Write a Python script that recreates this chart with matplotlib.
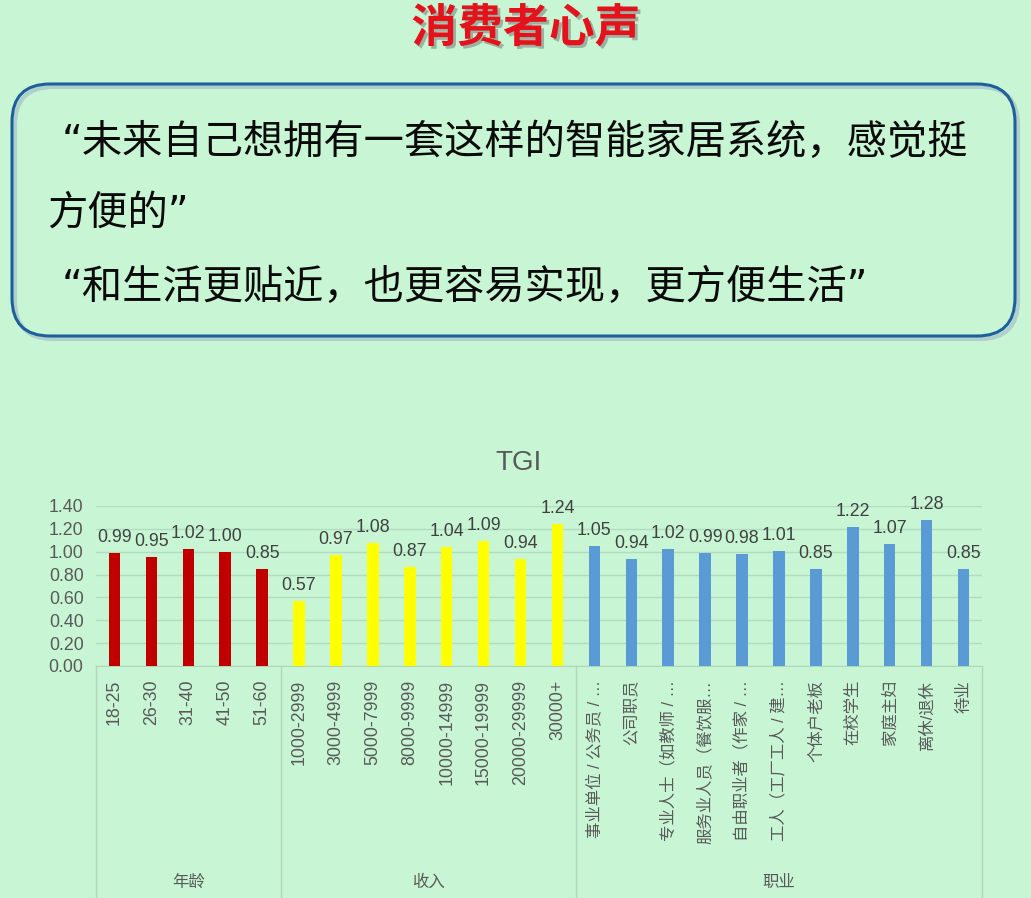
import matplotlib
matplotlib.use("Agg")
import matplotlib.pyplot as plt
import matplotlib.patheffects as pe
from matplotlib.patches import FancyBboxPatch
from matplotlib.transforms import blended_transform_factory
import numpy as np

# chart data
age_labels = ['18-25', '26-30', '31-40', '41-50', '51-60']
age_tgi = [0.99, 0.95, 1.02, 1.00, 0.85]
income_labels = ['1000-2999', '3000-4999', '5000-7999', '8000-9999',
                 '10000-14999', '15000-19999', '20000-29999', '30000+']
income_tgi = [0.57, 0.97, 1.08, 0.87, 1.04, 1.09, 0.94, 1.24]
job_labels = ['事业单位 / 公务员 / …', '公司职员', '专业人士（如教师 / …',
              '服务业人员（餐饮服…', '自由职业者（作家 / …', '工人（工厂工人 / 建…',
              '个体户老板', '在校学生', '家庭主妇', '离休/退休', '待业']
job_tgi = [1.05, 0.94, 1.02, 0.99, 0.98, 1.01, 0.85, 1.22, 1.07, 1.28, 0.85]
group_names = ['年龄', '收入', '职业']
group_colors = ['#c00000', '#ffff00', '#5b9bd5']
y_ticks = [0.0, 0.2, 0.4, 0.6, 0.8, 1.0, 1.2, 1.4]

page_title = '消费者心声'
quote_lines = ['“未来自己想拥有一套这样的智能家居系统，感觉挺',
               '方便的”',
               '“和生活更贴近，也更容易实现，更方便生活”']

BG = '#c8f6d5'
W, H = 1031, 898
cjk = ['Noto Sans CJK SC', 'DejaVu Sans']
latin = ['Liberation Sans', 'Noto Sans CJK SC']

fig = plt.figure(figsize=(W / 100, H / 100), dpi=100, facecolor=BG)

# overlay in pixel coords for the top part
top = fig.add_axes([0, 0, 1, 1], zorder=0)
top.set_xlim(0, W)
top.set_ylim(H, 0)
top.axis('off')
top.patch.set_alpha(0)

top.text(526, 29, page_title, ha='center', va='center', fontsize=33,
         fontweight='bold', color='#e5121b', family=cjk,
         path_effects=[pe.SimplePatchShadow(offset=(2, -2), shadow_rgbFace='#707070', alpha=0.5),
                       pe.Normal()])

box_shadow = FancyBboxPatch((15, 87), 1003, 252, boxstyle='round,pad=0,rounding_size=38',
                            fc='none', ec='#9fb8c8', lw=3, alpha=0.6)
top.add_patch(box_shadow)
box = FancyBboxPatch((12, 84), 1003, 252, boxstyle='round,pad=0,rounding_size=38',
                     fc='none', ec='#1f5f9c', lw=2.2)
top.add_patch(box)

quote_pos = [(62, 143), (47, 214), (62, 288)]
for (qx, qy), line in zip(quote_pos, quote_lines):
    top.text(qx, qy, line, ha='left', va='center', fontsize=29, color='#0a0a0a',
             family=['DejaVu Sans', 'Noto Sans CJK SC'])

top.text(518, 463, 'TGI', ha='center', va='center', fontsize=20, color='#595959', family=latin)

# bar chart
ax = fig.add_axes([96 / W, 1 - 666 / H, 886 / W, 160 / H], zorder=1)
ax.set_facecolor('none')

values = age_tgi + income_tgi + job_tgi
labels = age_labels + income_labels + job_labels
groups = [age_labels, income_labels, job_labels]
colors = []
for g, c in zip(groups, group_colors):
    colors += [c] * len(g)
x = np.arange(len(values))

ax.bar(x, values, width=0.31, color=colors, zorder=3)
for xi, v in zip(x, values):
    ax.annotate('%.2f' % v, (xi, v), xytext=(0, 5), textcoords='offset points',
                ha='center', va='bottom', fontsize=12.8, color='#404040',
                family=latin, annotation_clip=False)

ax.set_xlim(-0.5, len(values) - 0.5)
ax.set_ylim(0, 1.4)
ax.set_yticks(y_ticks)
ax.set_yticklabels(['%.2f' % t for t in y_ticks], fontsize=12.8, color='#595959', family=latin)
ax.yaxis.grid(True, color='#b2dcbd', lw=1, zorder=0)
ax.set_xticks(x)
ax.set_xticklabels(labels, rotation=90, color='#595959', family=latin)
n_num = len(age_labels) + len(income_labels)
for i, t in enumerate(ax.get_xticklabels()):
    t.set_fontsize(12.8 if i < n_num else 11.8)
ax.tick_params(axis='both', length=0)
ax.tick_params(axis='y', pad=9)
ax.tick_params(axis='x', pad=10)
for s in ['top', 'right', 'left']:
    ax.spines[s].set_visible(False)
ax.spines['bottom'].set_color('#b2d6bb')

# group separators and names under the axis
trans = blended_transform_factory(ax.transData, ax.transAxes)
start = -0.5
for g, name in zip(groups, group_names):
    end = start + len(g)
    ax.plot([start, start], [0, -1.5], transform=trans, color='#b2d6bb', lw=1, clip_on=False)
    ax.text((start + end) / 2, -1.35, name, transform=trans, ha='center', va='center',
            fontsize=11.8, color='#595959', family=cjk)
    start = end
ax.plot([start, start], [0, -1.5], transform=trans, color='#b2d6bb', lw=1, clip_on=False)

fig.savefig('out.png', dpi=100, facecolor=BG)
